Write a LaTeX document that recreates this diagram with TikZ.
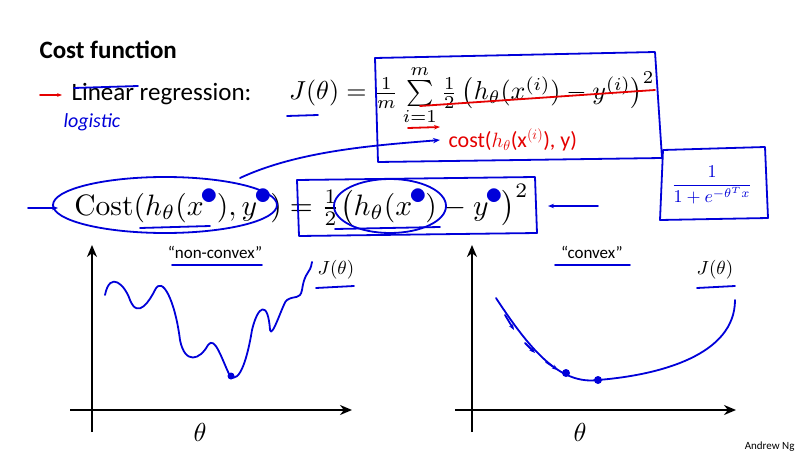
\documentclass[tikz,border=0pt]{standalone}
\usepackage{amsmath}
\usepackage{fontspec}
\newfontfamily\slide{Carlito}
\usetikzlibrary{arrows.meta}
\colorlet{bl}{blue!85!black}
\newcommand{\blob}{\makebox[0.4em][l]{\hspace{-0.1em}\large\textcolor{bl}{$\bullet$}}}
\begin{document}
\begin{tikzpicture}[x=1pt,y=-1pt,
  pen/.style={bl,line width=1.8pt,line cap=round,line join=round},
  redpen/.style={red!90!black,line width=1.8pt,line cap=round},
  axis/.style={line width=2.2pt,-{Stealth[length=12pt,width=10pt]}}]
\useasboundingbox (0,0) rectangle (800,455);
\fill[white] (0,0) rectangle (800,455);
\node[anchor=west,font=\slide\bfseries\fontsize{25}{28}\selectfont] (title) at (36,50) {Cost function};
\node[anchor=west,font=\slide\fontsize{25}{28}\selectfont] (lr) at (68,94) {Linear regression:};
\draw[redpen,-{Stealth[length=5pt]}] (40,95) -- (62,95);
\draw[pen] (74,88) -- (138,86);
\node[anchor=west,bl,font=\slide\itshape\fontsize{20}{22}\selectfont] (logi) at (60,122) {logistic};
\node[anchor=west,scale=2.6] (jeq) at (280,95)
  {$J(\theta)=\frac{1}{m}\sum\limits_{i=1}^{m}\frac{1}{2}\left(h_\theta(x^{(i)})-y^{(i)}\right)^2$};
\draw[pen] (287,116) -- (318,115);
\draw[redpen] (420,106) -- (655,90);
\draw[pen] (375,58) -- (655,52) -- (662,158) -- (378,162) -- cycle;
\node[anchor=west,red!90!black,font=\slide\fontsize{22}{24}\selectfont] (cost) at (445,140) {cost($h_\theta$(x$^{(i)}$),\ y)};
\draw[redpen,-{Stealth[length=6pt]}] (408,128) -- (440,127);
% second line
\node[anchor=west,scale=2.95] (ceq) at (64,205)
  {$\mathrm{Cost}(h_\theta(x^{\blob}),y^{\blob})=\frac{1}{2}\bigl(h_\theta(x^{\blob})-y^{\blob}\bigr)^2$};
\draw[pen] (165,205) ellipse (112 and 28);
\draw[pen,-{Stealth[length=6pt]}] (28,208) -- (58,208);
\draw[pen] (297,180) -- (535,177) -- (537,233) -- (299,236) -- cycle;
\draw[pen] (390,206) ellipse (56 and 27);
\draw[pen] (140,228) -- (210,226);
\draw[pen] (335,229) -- (440,227);
\draw[pen,-{Stealth[length=6pt]}] (598,206) -- (548,206);
\draw[pen,-{Stealth[length=7pt]}] (240,178) .. controls (300,150) and (380,145) .. (440,140);
\draw[pen] (663,150) -- (765,147) -- (768,218) -- (660,220) -- cycle;
\node[bl,scale=1.8] (sig) at (712,185) {$\dfrac{1}{1+e^{-\theta^Tx}}$};
% left plot
\draw[axis] (92,432) -- (92,245);
\draw[axis] (70,410) -- (352,410);
\node[scale=2.6] (th1) at (200,432) {$\theta$};
\node[font=\slide\fontsize{17}{19}\selectfont] (nc) at (215,252) {“non-convex”};
\draw[pen] (172,265) -- (262,265);
\node[scale=1.9] (j1) at (336,270) {$J(\theta)$};
\draw[pen] (316,288) -- (354,286);
\draw[pen] (105,295) .. controls (110,270) and (125,285) .. (130,300)
  .. controls (138,320) and (150,300) .. (155,290)
  .. controls (162,275) and (175,300) .. (180,340)
  .. controls (185,365) and (200,360) .. (208,345)
  .. controls (215,335) and (222,360) .. (230,376)
  .. controls (240,385) and (248,355) .. (252,330)
  .. controls (258,305) and (268,300) .. (270,330)
  .. controls (272,340) and (284,300) .. (287,300)
  .. controls (295,295) and (300,300) .. (302,290)
  .. controls (305,270) and (310,275) .. (312,262);
\fill[bl] (231,376) circle (3.5pt);
% right plot
\draw[axis] (472,432) -- (472,245);
\draw[axis] (455,410) -- (736,410);
\node[scale=2.6] (th2) at (580,432) {$\theta$};
\node[font=\slide\fontsize{17}{19}\selectfont] (cv) at (592,252) {“convex”};
\draw[pen] (555,265) -- (630,265);
\node[scale=1.9] (j2) at (715,270) {$J(\theta)$};
\draw[pen] (697,288) -- (735,286);
\draw[pen] (496,298) .. controls (530,350) and (560,385) .. (598,380)
  .. controls (660,375) and (735,355) .. (735,300);
\draw[pen,-{Stealth[length=6pt]}] (505,315) -- (514,330);
\draw[pen,-{Stealth[length=6pt]}] (525,343) -- (535,353);
\draw[pen,-{Stealth[length=6pt]}] (546,362) -- (558,370);
\fill[bl] (566,373) circle (4pt);
\fill[bl] (598,380) circle (4pt);
\node[anchor=east,font=\slide\fontsize{11}{12}\selectfont] (ng) at (798,447) {Andrew Ng};
\end{tikzpicture}
\end{document}
